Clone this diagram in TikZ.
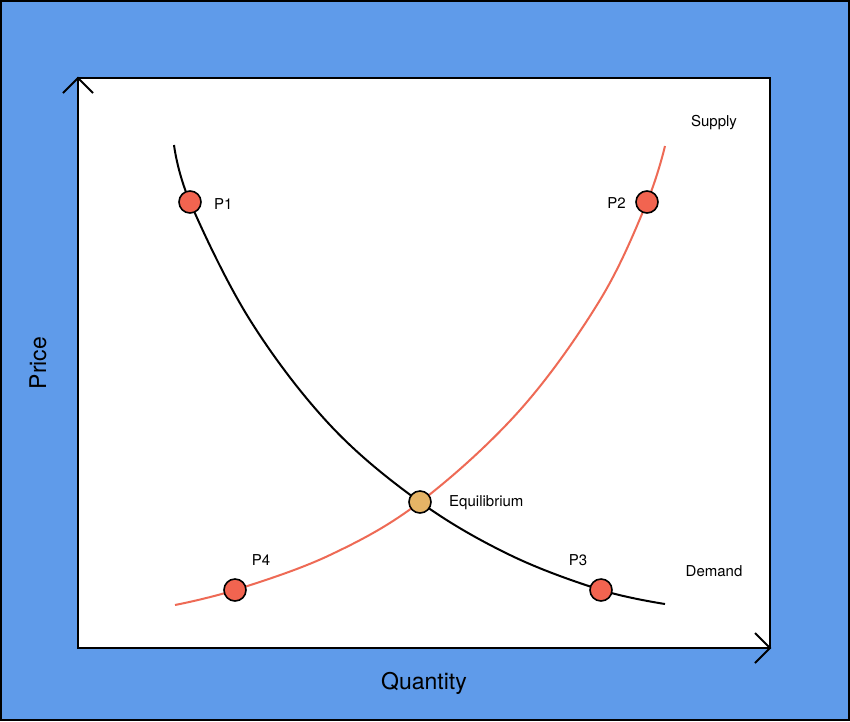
\documentclass[tikz,border=0pt]{standalone}
\usepackage{fontspec}
\setmainfont{TeX Gyre Heros}
\definecolor{bg}{HTML}{5F9BEA}
\definecolor{sup}{HTML}{EE6A55}
\definecolor{pt}{HTML}{F26450}
\definecolor{eq}{HTML}{E6B466}
\begin{document}
\begin{tikzpicture}[x=1pt,y=-1pt,
  dot/.style={circle,draw=black,line width=1.6pt,fill=pt,minimum size=22pt,inner sep=0pt},
  lbl/.style={font=\fontsize{15}{18}\selectfont,inner sep=0pt}]
\useasboundingbox (0,0) rectangle (850,721);
\fill[bg] (0,0) rectangle (850,721);
\draw[line width=2pt] (1,1) rectangle (849,720);
\draw[fill=white,line width=2pt] (78,78) rectangle (770,648);
\coordinate (yt) at (78,78);
\coordinate (xr) at (770,648);
\draw[line width=2pt] (63,93) -- (yt) -- (93,93);
\draw[line width=2pt] (755,633) -- (xr) -- (755,663);
\draw[line width=2pt,black] plot[smooth,tension=0.6] coordinates {(174,145) (190,202) (250,320) (330,425) (420,502) (510,555) (601,590) (665,604)};
\draw[line width=2pt,sup] plot[smooth,tension=0.6] coordinates {(175,605) (235,590) (330,555) (420,502) (520,410) (600,300) (647,202) (665,146)};
\node[dot] (p1) at (190,202) {};
\node[dot] (p2) at (647,202) {};
\node[dot] (p3) at (601,590) {};
\node[dot] (p4) at (235,590) {};
\node[dot,fill=eq] (e) at (420,502) {};
\node[lbl,anchor=west] (l1) at (214,204) {P1};
\node[lbl,anchor=east] (l2) at (626,203) {P2};
\node[lbl] (l3) at (578,560) {P3};
\node[lbl] (l4) at (261,560) {P4};
\node[lbl,anchor=west] (le) at (449,503) {Equilibrium};
\node[lbl] (ls) at (714,123) {Supply};
\node[lbl] (ld) at (714,571) {Demand};
\node[font=\fontsize{23}{28}\selectfont,rotate=90] (py) at (38,363) {Price};
\node[font=\fontsize{23}{28}\selectfont] (qx) at (424,683) {Quantity};
\end{tikzpicture}
\end{document}
